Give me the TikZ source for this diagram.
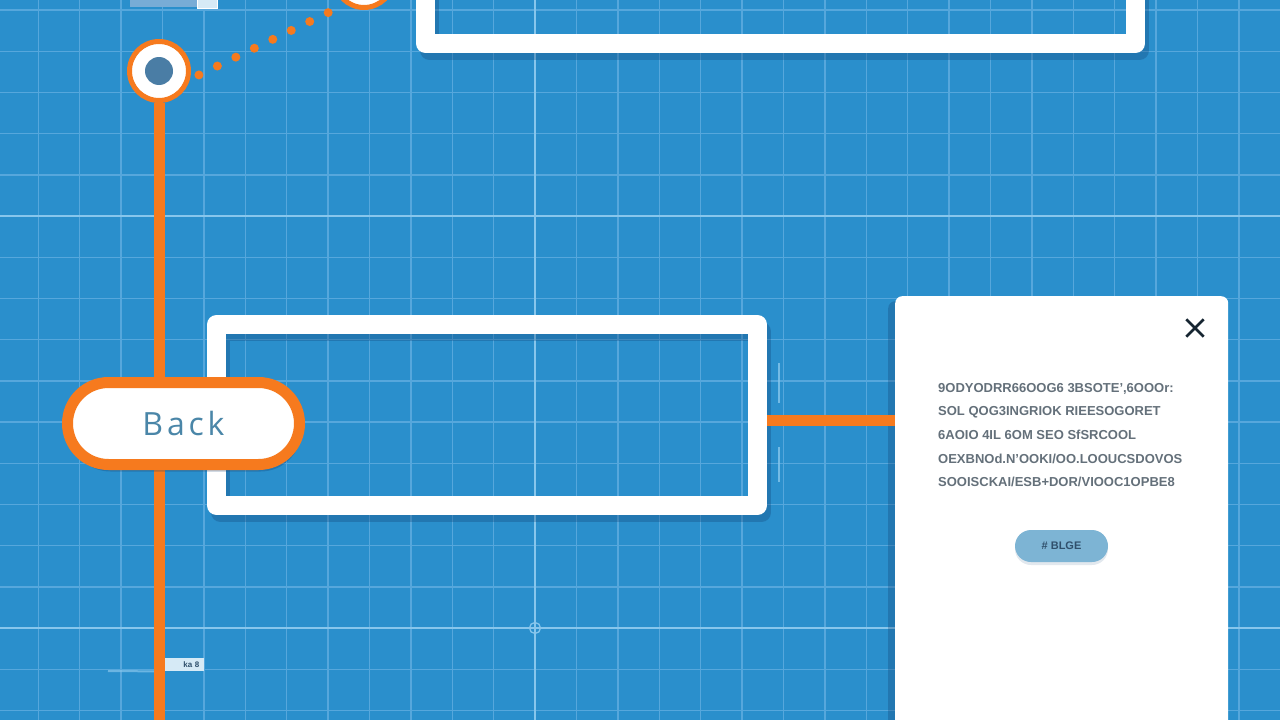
\documentclass[tikz,border=0pt]{standalone}
\usepackage{fontspec}
\setmainfont{Liberation Sans}
\newfontfamily\backfont[LetterSpace=12]{Open Sans}
\usetikzlibrary{positioning}
\definecolor{bpblue}{RGB}{42,143,204}
\definecolor{gridblue}{RGB}{86,167,220}
\definecolor{majorblue}{RGB}{135,198,236}
\definecolor{shadeblue}{RGB}{18,66,116}
\definecolor{railorange}{RGB}{246,122,30}
\definecolor{hubblue}{RGB}{74,125,165}
\definecolor{backtext}{RGB}{74,134,168}
\definecolor{dlggray}{RGB}{100,112,122}
\definecolor{btnblue}{RGB}{125,180,212}
\definecolor{btntext}{RGB}{48,80,108}
\definecolor{tabblue}{RGB}{120,172,214}
\definecolor{tagwhite}{RGB}{214,234,246}
\tikzset{
  frame/.style={draw=white,line width=19pt,line join=round,
    preaction={draw=shadeblue,opacity=.3,transform canvas={shift={(4pt,-7pt)}}}},
  ring/.style={circle,draw=railorange,fill=white,line width=5pt,minimum size=59pt,inner sep=0pt},
  hub/.style={circle,fill=hubblue,minimum size=28pt,inner sep=0pt},
  rail/.style={draw=railorange,line width=11pt},
  dotline/.style={draw=railorange,line width=9pt,line cap=round,dash pattern=on 0pt off 20.5pt,shorten <=10pt},
  backbtn/.style={rectangle,rounded corners=41pt,draw=railorange,line width=11pt,fill=white,
    minimum width=232pt,minimum height=82pt,text=backtext,font=\backfont\fontsize{32}{32}\selectfont,
    preaction={fill=shadeblue,opacity=.3,transform canvas={shift={(2pt,-7pt)}}}},
  gridline/.style={draw=gridblue,line width=1.4pt},
  majorline/.style={draw=majorblue,line width=1.8pt},
  tickline/.style={draw=majorblue,line width=2pt},
  xmark/.style={draw=black!70!hubblue,line width=2.6pt},
  pill/.style={rectangle,rounded corners=16pt,fill=btnblue,minimum width=93pt,minimum height=32pt,
    text=btntext,font=\bfseries\fontsize{11}{11}\selectfont,
    preaction={fill=shadeblue,opacity=.12,transform canvas={shift={(0pt,-3pt)}}}}
}
\begin{document}
\begin{tikzpicture}[x=1pt,y=-1pt]
  \clip (0,0) rectangle (1280,720);
  \fill[bpblue] (0,0) rectangle (1280,720);
  \foreach \i in {0,...,30}
    \draw[gridline] (38.2+\i*41.4,0) -- (38.2+\i*41.4,720);
  \foreach \j in {0,...,17}
    \draw[gridline] (0,10+\j*41.2) -- (1280,10+\j*41.2);
  \draw[majorline] (535,0) -- (535,720) (0,216) -- (1280,216) (0,628) -- (1280,628);
  \node (target) [circle,draw=majorblue,line width=1.3pt,minimum size=11pt,inner sep=0pt] at (535,628) {};

  \node (toptab) [fill=tabblue,minimum width=67pt,minimum height=8pt,inner sep=0pt,anchor=north west] at (130,-1) {};
  \node (tabend) [fill=tagwhite,draw=white,minimum width=20pt,minimum height=9pt,inner sep=0pt,right=0pt of toptab] {};
  \node (topframe) [frame,minimum width=710pt,minimum height=200pt] at (780.5,-56.5) {};

  \node (tag) [fill=tagwhite,minimum width=47pt,minimum height=13pt,inner sep=2pt,anchor=north west,
    text=btntext,font=\bfseries\fontsize{8}{8}\selectfont,text width=40pt,align=right] at (157,658) {ka 8\,};
  \draw[tickline,opacity=.7] (108,671) -- (tag.south west);

  \node (midframe) [frame,minimum width=541pt,minimum height=181pt] at (487,415) {};

  \node (ringA) [ring] at (159,71) {};
  \node (hubA) [hub] at (ringA) {};
  \node (ringB) [ring] at (364,-22) {};
  \coordinate (railend) at (159,730);
  \draw[rail] (ringA.south) -- (railend);
  \draw[dotline] (ringA.-15) -- (ringB.-125);

  \node (back) [backbtn] at (183.5,423.5) {Back};

  \draw[tickline,opacity=.8] (779,363) -- (779,403) (779,447) -- (779,482);

  \node (dialog) [rectangle,rounded corners=7pt,fill=white,minimum width=333pt,minimum height=470pt,anchor=north west,
    preaction={fill=shadeblue,opacity=.3,transform canvas={shift={(-7pt,-5pt)}}}] at (895,296) {};
  \coordinate (barstart) at ([yshift=-5pt]midframe.east);
  \draw[rail] (barstart) -- (barstart -| dialog.west);

  \node (closex) [minimum size=17pt,inner sep=0pt] at (1195,328) {};
  \draw[xmark] (closex.north west) -- (closex.south east) (closex.north east) -- (closex.south west);

  \node (dlgtext) [anchor=north west,align=left,inner sep=0pt,text=dlggray,
    font=\bfseries\fontsize{13}{23.6}\selectfont] at (938,383) {%
    9ODYODRR66OOG6 3BSOTE',6OOOr:\\
    SOL QOG3INGRIOK RIEESOGORET\\
    6AOIO 4IL 6OM SEO SfSRCOOL\\
    OEXBNOd.N'OOKI/OO.LOOUCSDOVOS\\
    SOOISCKAI/ESB+DOR/VIOOC1OPBE8};
  \node (okbtn) [pill] at (1061.5,546) {\# BLGE};
\end{tikzpicture}
\end{document}
